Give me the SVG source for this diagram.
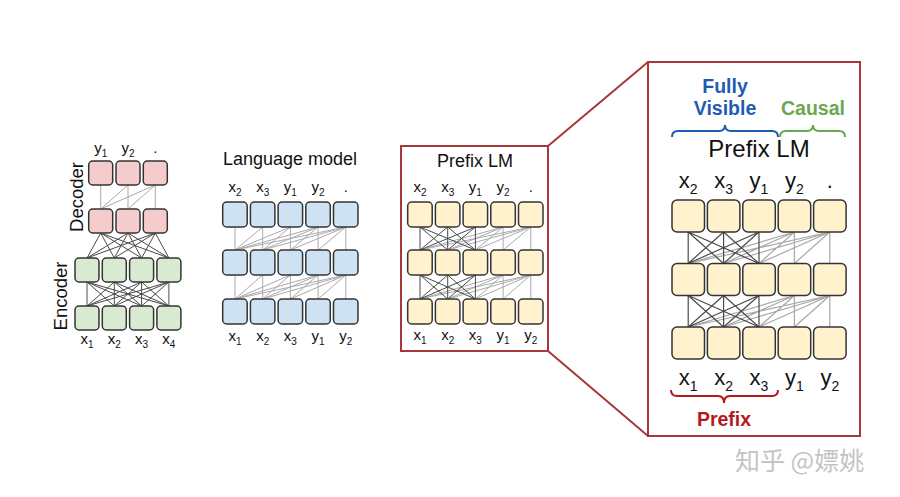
<svg xmlns="http://www.w3.org/2000/svg" width="900" height="497" viewBox="0 0 900 497">
<style>
  text { font-family: "Liberation Sans", Arial, sans-serif; fill: #111; }
  .lbl { font-size: 15px; text-anchor: middle; }
  .sub { font-size: 10px; }
  .blbl { font-size: 22px; text-anchor: middle; }
  .bsub { font-size: 14px; }
  .title { font-size: 18px; text-anchor: middle; }
  .side { font-size: 18.5px; text-anchor: middle; }
  .bold { font-weight: bold; font-size: 19.5px; text-anchor: middle; }
  .n { stroke: #333; stroke-width: 1.5; }
  .pink { fill: #f4cccc; }
  .green { fill: #d9ead3; }
  .blue { fill: #cfe2f3; }
  .yel { fill: #fff2cc; }
  .dk { stroke: #4a4a4a; stroke-width: 1; fill: none; }
  .lt { stroke: #aaaaaa; stroke-width: 1; fill: none; }
  .dkb { stroke: #4a4a4a; stroke-width: 1.2; fill: none; }
  .ltb { stroke: #a8a8a8; stroke-width: 1.2; fill: none; }
  .frame { fill: none; stroke: #a8373a; stroke-width: 2; }
</style>
<rect width="900" height="497" fill="#ffffff"/>

<!-- connectors -->
<g id="connectors">
  <!-- encoder-decoder -->
  <path class="lt" d="M100.7 185L100.7 209M128 185L100.7 209M128 185L128 209M155.3 185L100.7 209M155.3 185L128 209M155.3 185L155.3 209"/>
  <path class="dk" d="M100.7 233L87 258M100.7 233L114.3 258M100.7 233L141.6 258M100.7 233L168.9 258M128 233L87 258M128 233L114.3 258M128 233L141.6 258M128 233L168.9 258M155.3 233L87 258M155.3 233L114.3 258M155.3 233L141.6 258M155.3 233L168.9 258"/>
  <path class="dk" d="M87 282L87 306M87 282L114.3 306M87 282L141.6 306M87 282L168.9 306M114.3 282L87 306M114.3 282L114.3 306M114.3 282L141.6 306M114.3 282L168.9 306M141.6 282L87 306M141.6 282L114.3 306M141.6 282L141.6 306M141.6 282L168.9 306M168.9 282L87 306M168.9 282L114.3 306M168.9 282L141.6 306M168.9 282L168.9 306"/>
  <!-- language model -->
  <path class="lt" d="M235 227L235 250M262.7 227L235 250M262.7 227L262.7 250M290.4 227L235 250M290.4 227L262.7 250M290.4 227L290.4 250M318.1 227L235 250M318.1 227L262.7 250M318.1 227L290.4 250M318.1 227L318.1 250M345.8 227L235 250M345.8 227L262.7 250M345.8 227L290.4 250M345.8 227L318.1 250M345.8 227L345.8 250"/>
  <path class="lt" d="M235 275L235 299M262.7 275L235 299M262.7 275L262.7 299M290.4 275L235 299M290.4 275L262.7 299M290.4 275L290.4 299M318.1 275L235 299M318.1 275L262.7 299M318.1 275L290.4 299M318.1 275L318.1 299M345.8 275L235 299M345.8 275L262.7 299M345.8 275L290.4 299M345.8 275L318.1 299M345.8 275L345.8 299"/>
  <!-- prefix LM small -->
  <path class="lt" d="M503.1 227L420 250M503.1 227L447.7 250M503.1 227L475.4 250M503.1 227L503.1 250M530.8 227L420 250M530.8 227L447.7 250M530.8 227L475.4 250M530.8 227L503.1 250M530.8 227L530.8 250"/>
  <path class="lt" d="M503.1 275L420 299M503.1 275L447.7 299M503.1 275L475.4 299M503.1 275L503.1 299M530.8 275L420 299M530.8 275L447.7 299M530.8 275L475.4 299M530.8 275L503.1 299M530.8 275L530.8 299"/>
  <path class="dk" d="M420 227L420 250M420 227L447.7 250M420 227L475.4 250M447.7 227L420 250M447.7 227L447.7 250M447.7 227L475.4 250M475.4 227L420 250M475.4 227L447.7 250M475.4 227L475.4 250"/>
  <path class="dk" d="M420 275L420 299M420 275L447.7 299M420 275L475.4 299M447.7 275L420 299M447.7 275L447.7 299M447.7 275L475.4 299M475.4 275L420 299M475.4 275L447.7 299M475.4 275L475.4 299"/>
  <!-- prefix LM big -->
  <path class="ltb" d="M794.4 232L688.2 263.5M794.4 232L723.6 263.5M794.4 232L759 263.5M794.4 232L794.4 263.5M829.8 232L688.2 263.5M829.8 232L723.6 263.5M829.8 232L759 263.5M829.8 232L794.4 263.5M829.8 232L829.8 263.5"/>
  <path class="ltb" d="M794.4 295.5L688.2 327M794.4 295.5L723.6 327M794.4 295.5L759 327M794.4 295.5L794.4 327M829.8 295.5L688.2 327M829.8 295.5L723.6 327M829.8 295.5L759 327M829.8 295.5L794.4 327M829.8 295.5L829.8 327"/>
  <path class="dkb" d="M688.2 232L688.2 263.5M688.2 232L723.6 263.5M688.2 232L759 263.5M723.6 232L688.2 263.5M723.6 232L723.6 263.5M723.6 232L759 263.5M759 232L688.2 263.5M759 232L723.6 263.5M759 232L759 263.5"/>
  <path class="dkb" d="M688.2 295.5L688.2 327M688.2 295.5L723.6 327M688.2 295.5L759 327M723.6 295.5L688.2 327M723.6 295.5L723.6 327M723.6 295.5L759 327M759 295.5L688.2 327M759 295.5L723.6 327M759 295.5L759 327"/>
  <!-- zoom frames -->
  <path class="frame" d="M548 146L648 62M548 351L648 436"/>
</g>

<rect class="frame" x="401" y="146" width="147" height="205"/>
<rect class="frame" x="648" y="62" width="212" height="374"/>

<!-- encoder-decoder nodes -->
<g id="dec-top-1"><rect class="n pink" x="88.7" y="161" width="24" height="24" rx="4"/></g>
<g id="dec-top-2"><rect class="n pink" x="116" y="161" width="24" height="24" rx="4"/></g>
<g id="dec-top-3"><rect class="n pink" x="143.3" y="161" width="24" height="24" rx="4"/></g>
<g id="dec-bot-1"><rect class="n pink" x="88.7" y="209" width="24" height="24" rx="4"/></g>
<g id="dec-bot-2"><rect class="n pink" x="116" y="209" width="24" height="24" rx="4"/></g>
<g id="dec-bot-3"><rect class="n pink" x="143.3" y="209" width="24" height="24" rx="4"/></g>
<g id="enc-top-1"><rect class="n green" x="75" y="258" width="24" height="24" rx="4"/></g>
<g id="enc-top-2"><rect class="n green" x="102.3" y="258" width="24" height="24" rx="4"/></g>
<g id="enc-top-3"><rect class="n green" x="129.6" y="258" width="24" height="24" rx="4"/></g>
<g id="enc-top-4"><rect class="n green" x="156.9" y="258" width="24" height="24" rx="4"/></g>
<g id="enc-bot-1"><rect class="n green" x="75" y="306" width="24" height="24" rx="4"/></g>
<g id="enc-bot-2"><rect class="n green" x="102.3" y="306" width="24" height="24" rx="4"/></g>
<g id="enc-bot-3"><rect class="n green" x="129.6" y="306" width="24" height="24" rx="4"/></g>
<g id="enc-bot-4"><rect class="n green" x="156.9" y="306" width="24" height="24" rx="4"/></g>

<g id="encdec-labels">
  <text class="lbl" x="100.7" y="153">y<tspan class="sub" dy="4">1</tspan></text>
  <text class="lbl" x="128" y="153">y<tspan class="sub" dy="4">2</tspan></text>
  <text class="lbl" x="155.3" y="153">.</text>
  <text class="lbl" x="87" y="344">x<tspan class="sub" dy="4">1</tspan></text>
  <text class="lbl" x="114.3" y="344">x<tspan class="sub" dy="4">2</tspan></text>
  <text class="lbl" x="141.6" y="344">x<tspan class="sub" dy="4">3</tspan></text>
  <text class="lbl" x="168.9" y="344">x<tspan class="sub" dy="4">4</tspan></text>
  <text class="side" transform="translate(83,197) rotate(-90)">Decoder</text>
  <text class="side" transform="translate(67,296) rotate(-90)">Encoder</text>
</g>

<!-- language model nodes -->
<g id="lm-top-1"><rect class="n blue" x="222.7" y="202" width="24.5" height="25" rx="4"/></g>
<g id="lm-top-2"><rect class="n blue" x="250.4" y="202" width="24.5" height="25" rx="4"/></g>
<g id="lm-top-3"><rect class="n blue" x="278.1" y="202" width="24.5" height="25" rx="4"/></g>
<g id="lm-top-4"><rect class="n blue" x="305.8" y="202" width="24.5" height="25" rx="4"/></g>
<g id="lm-top-5"><rect class="n blue" x="333.5" y="202" width="24.5" height="25" rx="4"/></g>
<g id="lm-mid-1"><rect class="n blue" x="222.7" y="250" width="24.5" height="25" rx="4"/></g>
<g id="lm-mid-2"><rect class="n blue" x="250.4" y="250" width="24.5" height="25" rx="4"/></g>
<g id="lm-mid-3"><rect class="n blue" x="278.1" y="250" width="24.5" height="25" rx="4"/></g>
<g id="lm-mid-4"><rect class="n blue" x="305.8" y="250" width="24.5" height="25" rx="4"/></g>
<g id="lm-mid-5"><rect class="n blue" x="333.5" y="250" width="24.5" height="25" rx="4"/></g>
<g id="lm-bot-1"><rect class="n blue" x="222.7" y="299" width="24.5" height="25" rx="4"/></g>
<g id="lm-bot-2"><rect class="n blue" x="250.4" y="299" width="24.5" height="25" rx="4"/></g>
<g id="lm-bot-3"><rect class="n blue" x="278.1" y="299" width="24.5" height="25" rx="4"/></g>
<g id="lm-bot-4"><rect class="n blue" x="305.8" y="299" width="24.5" height="25" rx="4"/></g>
<g id="lm-bot-5"><rect class="n blue" x="333.5" y="299" width="24.5" height="25" rx="4"/></g>

<g id="lm-labels">
  <text class="title" x="290" y="165">Language model</text>
  <text class="lbl" x="235" y="192">x<tspan class="sub" dy="4">2</tspan></text>
  <text class="lbl" x="262.7" y="192">x<tspan class="sub" dy="4">3</tspan></text>
  <text class="lbl" x="290.4" y="192">y<tspan class="sub" dy="4">1</tspan></text>
  <text class="lbl" x="318.1" y="192">y<tspan class="sub" dy="4">2</tspan></text>
  <text class="lbl" x="345.8" y="192">.</text>
  <text class="lbl" x="235" y="341">x<tspan class="sub" dy="4">1</tspan></text>
  <text class="lbl" x="262.7" y="341">x<tspan class="sub" dy="4">2</tspan></text>
  <text class="lbl" x="290.4" y="341">x<tspan class="sub" dy="4">3</tspan></text>
  <text class="lbl" x="318.1" y="341">y<tspan class="sub" dy="4">1</tspan></text>
  <text class="lbl" x="345.8" y="341">y<tspan class="sub" dy="4">2</tspan></text>
</g>

<!-- prefix LM small nodes -->
<g id="pls-top-1"><rect class="n yel" x="407.7" y="202" width="24.5" height="25" rx="4"/></g>
<g id="pls-top-2"><rect class="n yel" x="435.4" y="202" width="24.5" height="25" rx="4"/></g>
<g id="pls-top-3"><rect class="n yel" x="463.1" y="202" width="24.5" height="25" rx="4"/></g>
<g id="pls-top-4"><rect class="n yel" x="490.8" y="202" width="24.5" height="25" rx="4"/></g>
<g id="pls-top-5"><rect class="n yel" x="518.5" y="202" width="24.5" height="25" rx="4"/></g>
<g id="pls-mid-1"><rect class="n yel" x="407.7" y="250" width="24.5" height="25" rx="4"/></g>
<g id="pls-mid-2"><rect class="n yel" x="435.4" y="250" width="24.5" height="25" rx="4"/></g>
<g id="pls-mid-3"><rect class="n yel" x="463.1" y="250" width="24.5" height="25" rx="4"/></g>
<g id="pls-mid-4"><rect class="n yel" x="490.8" y="250" width="24.5" height="25" rx="4"/></g>
<g id="pls-mid-5"><rect class="n yel" x="518.5" y="250" width="24.5" height="25" rx="4"/></g>
<g id="pls-bot-1"><rect class="n yel" x="407.7" y="299" width="24.5" height="25" rx="4"/></g>
<g id="pls-bot-2"><rect class="n yel" x="435.4" y="299" width="24.5" height="25" rx="4"/></g>
<g id="pls-bot-3"><rect class="n yel" x="463.1" y="299" width="24.5" height="25" rx="4"/></g>
<g id="pls-bot-4"><rect class="n yel" x="490.8" y="299" width="24.5" height="25" rx="4"/></g>
<g id="pls-bot-5"><rect class="n yel" x="518.5" y="299" width="24.5" height="25" rx="4"/></g>

<g id="pls-labels">
  <text class="title" x="475" y="167">Prefix LM</text>
  <text class="lbl" x="420" y="192">x<tspan class="sub" dy="4">2</tspan></text>
  <text class="lbl" x="447.7" y="192">x<tspan class="sub" dy="4">3</tspan></text>
  <text class="lbl" x="475.4" y="192">y<tspan class="sub" dy="4">1</tspan></text>
  <text class="lbl" x="503.1" y="192">y<tspan class="sub" dy="4">2</tspan></text>
  <text class="lbl" x="530.8" y="192">.</text>
  <text class="lbl" x="420" y="340">x<tspan class="sub" dy="4">1</tspan></text>
  <text class="lbl" x="447.7" y="340">x<tspan class="sub" dy="4">2</tspan></text>
  <text class="lbl" x="475.4" y="340">x<tspan class="sub" dy="4">3</tspan></text>
  <text class="lbl" x="503.1" y="340">y<tspan class="sub" dy="4">1</tspan></text>
  <text class="lbl" x="530.8" y="340">y<tspan class="sub" dy="4">2</tspan></text>
</g>

<!-- prefix LM big nodes -->
<g id="plb-top-1"><rect class="n yel" x="672" y="200" width="32.5" height="32" rx="5"/></g>
<g id="plb-top-2"><rect class="n yel" x="707.4" y="200" width="32.5" height="32" rx="5"/></g>
<g id="plb-top-3"><rect class="n yel" x="742.8" y="200" width="32.5" height="32" rx="5"/></g>
<g id="plb-top-4"><rect class="n yel" x="778.2" y="200" width="32.5" height="32" rx="5"/></g>
<g id="plb-top-5"><rect class="n yel" x="813.6" y="200" width="32.5" height="32" rx="5"/></g>
<g id="plb-mid-1"><rect class="n yel" x="672" y="263.5" width="32.5" height="32" rx="5"/></g>
<g id="plb-mid-2"><rect class="n yel" x="707.4" y="263.5" width="32.5" height="32" rx="5"/></g>
<g id="plb-mid-3"><rect class="n yel" x="742.8" y="263.5" width="32.5" height="32" rx="5"/></g>
<g id="plb-mid-4"><rect class="n yel" x="778.2" y="263.5" width="32.5" height="32" rx="5"/></g>
<g id="plb-mid-5"><rect class="n yel" x="813.6" y="263.5" width="32.5" height="32" rx="5"/></g>
<g id="plb-bot-1"><rect class="n yel" x="672" y="327" width="32.5" height="32" rx="5"/></g>
<g id="plb-bot-2"><rect class="n yel" x="707.4" y="327" width="32.5" height="32" rx="5"/></g>
<g id="plb-bot-3"><rect class="n yel" x="742.8" y="327" width="32.5" height="32" rx="5"/></g>
<g id="plb-bot-4"><rect class="n yel" x="778.2" y="327" width="32.5" height="32" rx="5"/></g>
<g id="plb-bot-5"><rect class="n yel" x="813.6" y="327" width="32.5" height="32" rx="5"/></g>

<g id="plb-labels">
  <text class="bold" x="725" y="93" style="fill:#1f5bb5">Fully</text>
  <text class="bold" x="725" y="115" style="fill:#1f5bb5">Visible</text>
  <text class="bold" x="813" y="115" style="fill:#6aa84f">Causal</text>
  <path d="M672 137Q672 131 678 131L719 131Q725 131 725 125Q725 131 731 131L772 131Q778 131 778 137" fill="none" stroke="#1f5bb5" stroke-width="2"/>
  <path d="M780 137Q780 131 786 131L807 131Q813 131 813 125Q813 131 819 131L839 131Q845 131 845 137" fill="none" stroke="#6aa84f" stroke-width="2"/>
  <text x="759" y="157" style="font-size:24px;text-anchor:middle">Prefix LM</text>
  <text class="blbl" x="688.2" y="188">x<tspan class="bsub" dy="6">2</tspan></text>
  <text class="blbl" x="723.6" y="188">x<tspan class="bsub" dy="6">3</tspan></text>
  <text class="blbl" x="759" y="188">y<tspan class="bsub" dy="6">1</tspan></text>
  <text class="blbl" x="794.4" y="188">y<tspan class="bsub" dy="6">2</tspan></text>
  <text class="blbl" x="829.8" y="188">.</text>
  <text class="blbl" x="688.2" y="385">x<tspan class="bsub" dy="6">1</tspan></text>
  <text class="blbl" x="723.6" y="385">x<tspan class="bsub" dy="6">2</tspan></text>
  <text class="blbl" x="759" y="385">x<tspan class="bsub" dy="6">3</tspan></text>
  <text class="blbl" x="794.4" y="385">y<tspan class="bsub" dy="6">1</tspan></text>
  <text class="blbl" x="829.8" y="385">y<tspan class="bsub" dy="6">2</tspan></text>
  <path d="M671 390Q671 396 677 396L718 396Q724 396 724 403Q724 396 730 396L772 396Q778 396 778 390" fill="none" stroke="#b5191c" stroke-width="2"/>
  <text class="bold" x="724" y="426" style="fill:#b5191c">Prefix</text>
</g>

<text x="735" y="470" style="font-family:'Noto Sans CJK SC','Liberation Sans',sans-serif;font-size:25px;fill:#c4c4c4">知乎 @嫖姚</text>
</svg>
